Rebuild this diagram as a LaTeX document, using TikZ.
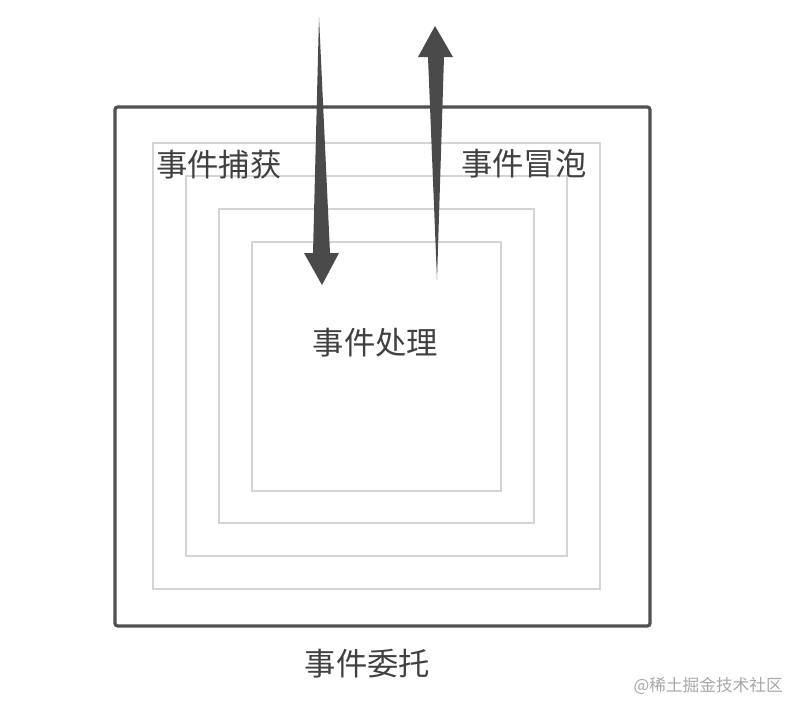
\documentclass[tikz,border=0pt]{standalone}
\usepackage{fontspec}
\newfontfamily\cjk{Noto Sans CJK SC}
\definecolor{darkframe}{HTML}{505050}
\definecolor{lightframe}{HTML}{D4D4D4}
\definecolor{arrowgray}{HTML}{4A4A4A}
\definecolor{textgray}{HTML}{404040}
\definecolor{markgray}{HTML}{A8A8A8}
\tikzset{
  outerframe/.style={draw=darkframe, line width=2.4pt, rounded corners=2pt},
  innerframe/.style={draw=lightframe, line width=1.5pt},
  bigarrow/.style={fill=arrowgray, draw=none},
  label/.style={font=\cjk\fontsize{23.5}{26}\selectfont, text=textgray, inner sep=0pt},
  watermark/.style={font=\cjk\fontsize{12.5}{14}\selectfont, text=markgray, inner sep=0pt}
}
\begin{document}
\begin{tikzpicture}[x=0.75pt, y=-0.75pt]
\useasboundingbox[fill=white] (0,0) rectangle (803,715);
% frames
\draw[outerframe] (115,107) rectangle (650,626);
\draw[innerframe] (153,143) rectangle (600,589);
\draw[innerframe] (186,176) rectangle (567,556);
\draw[innerframe] (219,209) rectangle (534,523);
\draw[innerframe] (252,242) rectangle (501,491);
% down arrow (capture)
\fill[bigarrow] (319,17) -- (330,253) -- (339,253) -- (322,285) -- (304,253) -- (313,253) -- cycle;
% up arrow (bubble)
\fill[bigarrow] (437,280) -- (428,57) -- (418,57) -- (435,26) -- (453,57) -- (444,57) -- cycle;
% labels
\node[label, anchor=west] (capture) at (156,165) {事件捕获};
\node[label, anchor=west] (bubble) at (461,164) {事件冒泡};
\node[label] (handle) at (375.5,343) {事件处理};
\node[label] (delegate) at (367.5,664) {事件委托};
\node[watermark, anchor=east] (mark) at (783,686) {@稀土掘金技术社区};
\end{tikzpicture}
\end{document}
